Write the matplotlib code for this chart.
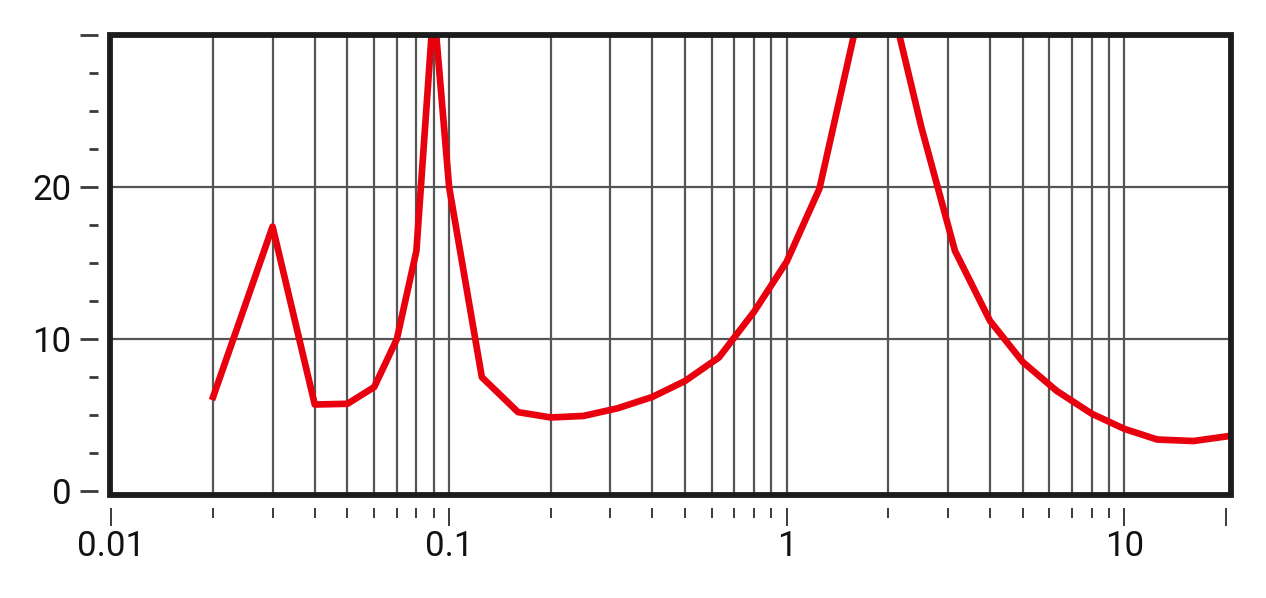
import numpy as np
import matplotlib
matplotlib.use("Agg")
from matplotlib import pyplot as plt
from matplotlib.patches import Rectangle
from matplotlib.ticker import FixedLocator, NullFormatter

# curve (peaks run off the top of the frame)
freq = [0.02, 0.03, 0.04, 0.05, 0.06, 0.07, 0.08, 0.09, 0.1,
        0.125, 0.16, 0.2, 0.25, 0.315, 0.4, 0.5, 0.63, 0.8, 1.0,
        1.25, 1.6, 2.0, 2.5, 3.15, 4.0, 5.0, 6.3, 8.0, 10.0,
        12.5, 16.0, 20.0]
value = [6.2, 17.4, 5.7, 5.75, 6.85, 10.0, 15.8, 32.0, 20.0,
         7.5, 5.2, 4.85, 4.95, 5.45, 6.2, 7.25, 8.8, 11.8, 15.1,
         19.9, 30.5, 33.0, 24.0, 15.8, 11.2, 8.5, 6.6, 5.1, 4.1,
         3.4, 3.3, 3.6]

x_major = [0.01, 0.1, 1, 10, 20]
x_major_labels = ["0.01", "0.1", "1", "10", ""]
x_minor = [m * d for d in (0.01, 0.1, 1) for m in range(2, 10)]
x_grid = [v for v in x_minor + [0.1, 1, 10] if v < 20]
y_major = [0, 10, 20, 30]
y_major_labels = ["0", "10", "20", ""]
y_minor = [2.5, 5, 7.5, 12.5, 15, 17.5, 22.5, 25, 27.5]
y_grid = [10, 20]

plt.rcParams['font.family'] = ['Roboto', 'DejaVu Sans']

fig = plt.figure(figsize=(12.66, 5.98), dpi=100)
ax = fig.add_axes([0.0869, 0.1722, 0.9724 - 0.0869, 0.9415 - 0.1722])

ax.set_xscale('log')
ax.set_xlim(0.0099, 20.7)
ax.set_ylim(-0.25, 30)

# grid
for gx in x_grid:
	ax.axvline(gx, color='#555555', lw=1.6, zorder=1)
for gy in y_grid:
	ax.axhline(gy, color='#555555', lw=1.6, zorder=1)

ax.plot(freq, value, color='#e8000e', lw=4.8, zorder=3, solid_joinstyle='round')

# ticks sit away from the frame, so push the (hidden) spines outwards
for side in ['left', 'bottom', 'top', 'right']:
	ax.spines[side].set_visible(False)
ax.spines['left'].set_position(('outward', 8.6))
ax.spines['bottom'].set_position(('outward', 9.4))

ax.xaxis.set_major_locator(FixedLocator(x_major))
ax.xaxis.set_minor_locator(FixedLocator(x_minor))
ax.set_xticklabels(x_major_labels)
ax.xaxis.set_minor_formatter(NullFormatter())
ax.yaxis.set_major_locator(FixedLocator(y_major))
ax.yaxis.set_minor_locator(FixedLocator(y_minor))
ax.set_yticklabels(y_major_labels)

ax.tick_params(axis='both', which='both', direction='out', color='#3a3a3a',
               labelsize=25, labelcolor='#111111')
ax.tick_params(axis='x', which='major', length=13, width=1.4, pad=3)
ax.tick_params(axis='x', which='minor', length=7, width=1.4)
ax.tick_params(axis='y', which='major', length=13, width=2.0, pad=6)
ax.tick_params(axis='y', which='minor', length=6.5, width=2.0)

# thick frame
ax.add_patch(Rectangle((0, 0), 1, 1, transform=ax.transAxes, fill=False,
                       lw=4.2, ec='#1c1c1c', clip_on=False, zorder=5))

# the source image is cut just under the x labels
fig.add_artist(Rectangle((0, 0), 1, (598 - 557) / 598, transform=fig.transFigure,
                         color='white', zorder=10))

fig.savefig("out.png", dpi=100, facecolor='white')
